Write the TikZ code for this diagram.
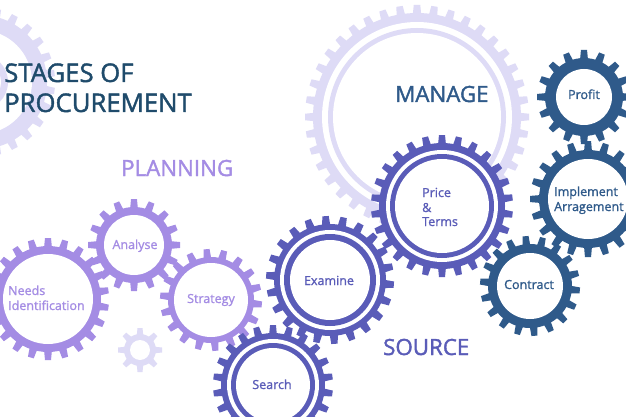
\documentclass[tikz,border=0pt]{standalone}
\usepackage{fontspec}
\setmainfont{Open Sans}
\newfontfamily\semititle{Open Sans}[FakeBold=1.6]
\newfontfamily\semilbl{Open Sans}[FakeBold=1.2]
\definecolor{plan}{HTML}{A48CE4}
\definecolor{src}{HTML}{5A5CB8}
\definecolor{mng}{HTML}{2F5A8A}
\definecolor{lite}{HTML}{DEDBF6}
\definecolor{ttl}{HTML}{1F4B6B}
% #1 x, #2 y, #3 teeth, #4 tip radius, #5 root radius, #6 hole radius, #7 colour, #8 rotation
\newcommand\mygear[8]{%
  \begin{scope}[shift={(#1,#2)}]
    \fill[#7] (0,0) circle (#5);
    \pgfmathsetmacro\wb{1.6*#5/#3}%
    \pgfmathsetmacro\wt{1.25*#5/#3}%
    \foreach \i in {1,...,#3}{%
      \pgfmathsetmacro\a{#8+360*\i/#3}%
      \fill[#7, rotate=\a] (-\wb,#5-1) -- (-\wt,#4) -- (\wt,#4) -- (\wb,#5-1) -- cycle;
    }
    \fill[white] (0,0) circle (#6);
  \end{scope}}
% inner ring: #1 x, #2 y, #3 outer, #4 inner, #5 colour
\newcommand\myring[5]{%
  \fill[#5] (#1,#2) circle (#3);
  \fill[white] (#1,#2) circle (#4);}
\tikzset{
  title/.style={anchor=base west, inner sep=0, text=ttl, font=\semititle\fontsize{25.7}{30}\selectfont},
  stage/.style={anchor=base west, inner sep=0, font=\semititle\fontsize{22.3}{26}\selectfont},
  lbl/.style={inner sep=0, font=\semilbl\fontsize{12.5}{15}\selectfont}
}
\begin{document}
\begin{tikzpicture}[x=1pt,y=-1pt]
\useasboundingbox (0,0) rectangle (626,417);
\fill[white] (0,0) rectangle (626,417);
\clip (0,0) rectangle (626,417);
% light background gears
\mygear{-20}{82}{26}{75}{67}{52}{lite}{0}
\myring{-20}{82}{28}{21}{lite}
\mygear{417}{117}{40}{112}{104}{95}{lite}{0}
\myring{417}{117}{89}{84}{lite}
\mygear{140}{350}{8}{22}{16}{10}{lite}{0}
% planning gears
\mygear{48}{299}{22}{61}{53}{45}{plan}{0}
\mygear{134}{245}{16}{46}{38}{30}{plan}{0}
\mygear{211}{300}{18}{51}{43}{37}{plan}{5}
% source gears
\mygear{273}{385}{22}{60}{52}{46}{src}{0}
\myring{273}{385}{42}{37}{src}
\mygear{330}{280}{22}{64}{56}{50}{src}{4}
\myring{330}{280}{46}{40}{src}
\mygear{442}{206}{26}{71}{63}{56}{src}{0}
\myring{442}{206}{52}{47}{src}
% manage gears
\mygear{584}{97}{16}{47}{39}{28}{mng}{0}
\mygear{588}{199}{20}{58}{49}{40}{mng}{0}
\mygear{530}{286}{18}{50}{42}{33}{mng}{5}
% titles
\node[title] (t1) at (4,82) {STAGES OF};
\node[title] (t2) at (4,112) {PROCUREMENT};
\node[stage, text=plan] (plan) at (121,176) {PLANNING};
\node[stage, text=mng] (manage) at (395,102) {MANAGE};
\node[stage, text=src] (source) at (383,355) {SOURCE};
% labels
\node[lbl, anchor=base west, text=plan] (needsA) at (8,295) {Needs};
\node[lbl, anchor=base west, text=plan] (needsB) at (8,310) {Identification};
\node[lbl, anchor=base, text=plan] (analyse) at (135,249) {Analyse};
\node[lbl, anchor=base, text=plan] (strategy) at (211,303) {Strategy};
\node[lbl, anchor=base, text=src] (examine) at (329,285) {Examine};
\node[lbl, anchor=base, text=src] (search) at (272,389) {Search};
\node[lbl, anchor=base west, text=src] (priceA) at (422,197) {Price};
\node[lbl, anchor=base west, text=src] (priceB) at (422,212) {\&};
\node[lbl, anchor=base west, text=src] (priceC) at (422,226) {Terms};
\node[lbl, anchor=base, text=mng] (profit) at (584,99) {Profit};
\node[lbl, anchor=base west, text=mng] (implA) at (554,196) {Implement};
\node[lbl, anchor=base west, text=mng] (implB) at (554,211) {Arragement};
\node[lbl, anchor=base, text=mng] (contract) at (529,289) {Contract};
\end{tikzpicture}
\end{document}
